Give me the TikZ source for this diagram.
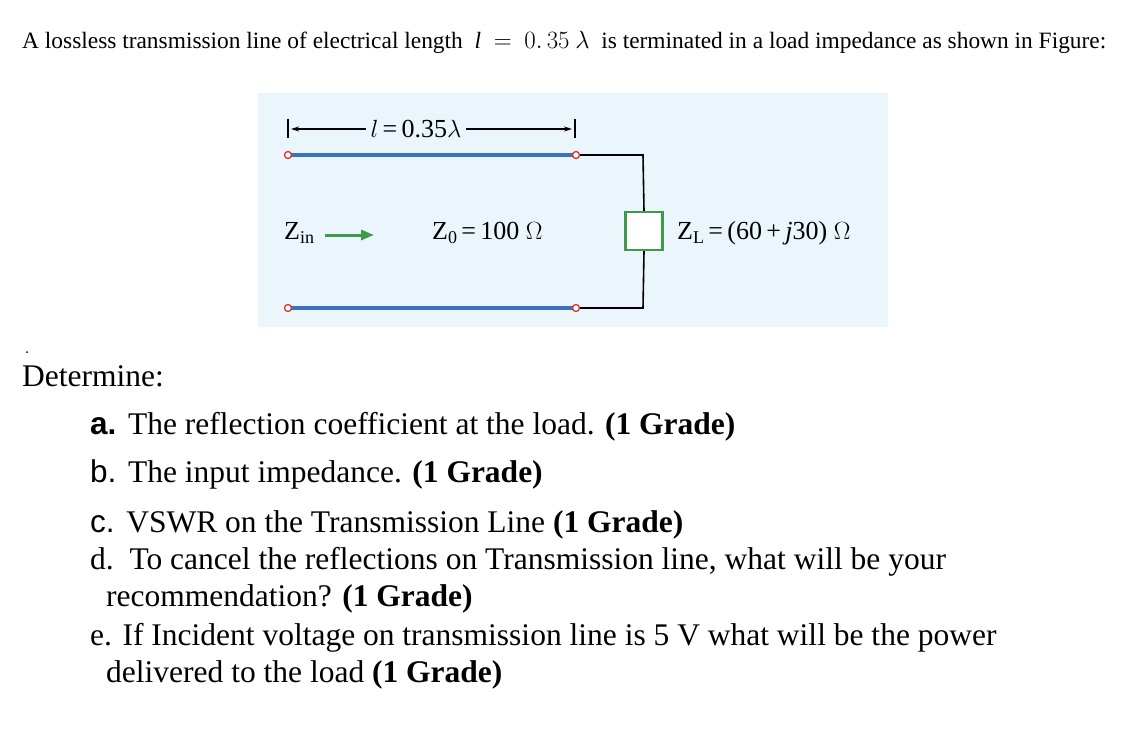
\documentclass[tikz,border=0pt]{standalone}
\usepackage{fontspec}
\setmainfont{Liberation Serif}
\setsansfont{Liberation Sans}
\usetikzlibrary{arrows.meta}
\definecolor{bgblue}{HTML}{EAF5FC}
\definecolor{lineblue}{HTML}{3A72BE}
\definecolor{termred}{HTML}{E0302A}
\definecolor{loadgreen}{HTML}{3E9B4A}
\begin{document}
\begin{tikzpicture}[x=1pt,y=-1pt,
  term/.style={circle,draw=termred,fill=white,line width=1.3pt,inner sep=0pt,minimum size=7pt},
  tline/.style={lineblue,line width=4.5pt},
  wire/.style={black,line width=1.6pt},
  body/.style={anchor=base west,inner sep=0pt,font=\fontsize{31.5}{34}\selectfont},
  lab/.style={inner sep=0pt,font=\fontsize{26}{28}\selectfont}]
\useasboundingbox (0,0) rectangle (1148,730);
\fill[white] (0,0) rectangle (1148,730);
\node[anchor=base west,inner sep=0pt,font=\fontsize{23.4}{25}\selectfont] (title) at (22,49)
 {A lossless transmission line of electrical length \ $\mathit{l}\ =\ 0.\,35\ \lambda$\ \ is terminated in a load impedance as shown in Figure:};
\fill[bgblue] (258,93) rectangle (888,327);
% lines
\coordinate (a1) at (288,155); \coordinate (b1) at (576,155);
\coordinate (a2) at (288,308); \coordinate (b2) at (576,308);
\draw[tline] (a1) -- (b1);
\draw[tline] (a2) -- (b2);
\node[draw=loadgreen,fill=white,line width=2.2pt,minimum width=37pt,minimum height=38pt,inner sep=0pt] (ZL) at (644,231) {};
\draw[wire] (b1) -- (643,155) -- (ZL.north);
\draw[wire] (ZL.south) -- (643,308) -- (b2);
\node[term] (t1) at (a1) {}; \node[term] (t2) at (b1) {};
\node[term] (t3) at (a2) {}; \node[term] (t4) at (b2) {};
% dimension
\coordinate (d1t) at (288,119); \coordinate (d1b) at (288,138);
\coordinate (d2t) at (575,119); \coordinate (d2b) at (575,138);
\draw[line width=1.4pt] (d1t) -- (d1b); \draw[line width=1.4pt] (d2t) -- (d2b);
\node[lab] (len) at (416,129) {\,$l$\,=\,0.35$\lambda$\,};
\draw[line width=1.3pt,-{Stealth[length=8pt,width=5pt]}] (len.west) -- (291,129);
\draw[line width=1.3pt,-{Stealth[length=8pt,width=5pt]}] (len.east) -- (572,129);
% labels
\node[lab,anchor=base west] (zin) at (284,240) {Z\raisebox{-0.3ex}{\fontsize{18}{19}\selectfont in}};
\coordinate (ar) at (374,235);
\draw[loadgreen,line width=3pt,-{Triangle[length=13pt,width=10pt]}] (325,235) -- (ar);
\node[lab,anchor=base west] (z0) at (432,240) {Z\raisebox{-0.3ex}{\fontsize{18}{19}\selectfont 0}\,=\,100 $\Omega$};
\node[lab,anchor=base west] (zl) at (677,240) {Z\raisebox{-0.3ex}{\fontsize{18}{19}\selectfont L}\,=\,(60\,+\,\textit{j}30) $\Omega$};
% questions
\fill (27,352) circle (1pt);
\node[body] (det) at (22,386) {Determine:};
\node[body] (qa) at (90,434) {\sffamily\bfseries a. \normalfont\rmfamily The reflection coefficient at the load. \textbf{(1 Grade)}};
\node[body] (qb) at (90,482) {\sffamily b. \rmfamily The input impedance. \textbf{(1 Grade)}};
\node[body] (qc) at (90,532) {\sffamily c. \rmfamily VSWR on the Transmission Line \textbf{(1 Grade)}};
\node[body] (qd) at (90,569) {d.\ \ To cancel the reflections on Transmission line, what will be your};
\node[body] (qd2) at (106,606) {recommendation? \textbf{(1 Grade)}};
\node[body] (qe) at (90,645) {e. If Incident voltage on transmission line is 5 V what will be the power};
\node[body] (qe2) at (106,682) {delivered to the load \textbf{(1 Grade)}};
\end{tikzpicture}
\end{document}
